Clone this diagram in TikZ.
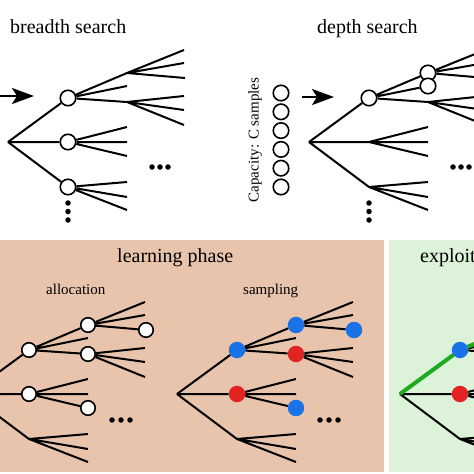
\documentclass[tikz,border=0pt]{standalone}
\usepackage{fontspec}
\setmainfont{Liberation Serif}
\usetikzlibrary{arrows.meta}
\definecolor{tanbg}{RGB}{232,196,172}
\definecolor{greenbg}{RGB}{221,243,217}
\definecolor{nblue}{RGB}{25,115,230}
\definecolor{nred}{RGB}{225,35,35}
\definecolor{ngreen}{RGB}{30,170,30}
\tikzset{
 tp/.style={shape=coordinate},
 wc/.style={shape=circle, draw, fill=white, line width=1.6pt, minimum size=15.5pt, inner sep=0pt},
 wcs/.style={wc, minimum size=14.5pt},
 bc/.style={shape=circle, fill=nblue, minimum size=16.5pt, inner sep=0pt},
 rc/.style={shape=circle, fill=nred, minimum size=16.5pt, inner sep=0pt},
 tline/.style={line width=2pt},
 gline/.style={line width=4pt, ngreen},
 dotn/.style={circle, fill, inner sep=0pt, minimum size=5.5pt},
 myarrow/.style={-{Stealth[length=22pt,width=16pt,inset=5pt]}, line width=1.7pt},
 ttl/.style={font=\fontsize{20}{24}\selectfont, inner sep=0pt, anchor=base west},
 subttl/.style={font=\fontsize{15}{18}\selectfont, inner sep=0pt, anchor=base west},
}
\newcommand\drawtree[3]{%
 \begin{scope}[shift={(#2,#3)}]
  \node[tp,#1-r/.try] (#1-r) at (0,0) {};
  \node[tp,#1-a/.try] (#1-a) at (60,-44) {};
  \node[tp,#1-b/.try] (#1-b) at (60,0) {};
  \node[tp,#1-c/.try] (#1-c) at (60,45) {};
  \node[tp,#1-a1/.try] (#1-a1) at (119,-69) {};
  \node[tp,#1-a2/.try] (#1-a2) at (119,-56) {};
  \node[tp,#1-a3/.try] (#1-a3) at (119,-40) {};
  \node[tp,#1-b1/.try] (#1-b1) at (119,-15) {};
  \node[tp,#1-b2/.try] (#1-b2) at (119,0) {};
  \node[tp,#1-b3/.try] (#1-b3) at (119,14) {};
  \node[tp,#1-c1/.try] (#1-c1) at (119,40) {};
  \node[tp,#1-c2/.try] (#1-c2) at (119,55) {};
  \node[tp,#1-c3/.try] (#1-c3) at (119,68) {};
  \node[tp,#1-a11/.try] (#1-a11) at (176,-92) {};
  \node[tp,#1-a12/.try] (#1-a12) at (176,-79) {};
  \node[tp,#1-a13/.try] (#1-a13) at (177,-64) {};
  \node[tp,#1-a31/.try] (#1-a31) at (176,-46) {};
  \node[tp,#1-a32/.try] (#1-a32) at (176,-32) {};
  \node[tp,#1-a33/.try] (#1-a33) at (176,-17) {};
 \end{scope}
 \draw[tline] (#1-r) -- (#1-a) (#1-r) -- (#1-b) (#1-r) -- (#1-c)
   (#1-a) -- (#1-a1) (#1-a) -- (#1-a2) (#1-a) -- (#1-a3)
   (#1-b) -- (#1-b1) (#1-b) -- (#1-b2) (#1-b) -- (#1-b3)
   (#1-c) -- (#1-c1) (#1-c) -- (#1-c2) (#1-c) -- (#1-c3)
   (#1-a1) -- (#1-a11) (#1-a1) -- (#1-a12) (#1-a1) -- (#1-a13)
   (#1-a3) -- (#1-a31) (#1-a3) -- (#1-a32) (#1-a3) -- (#1-a33);
}
\begin{document}
\begin{tikzpicture}[x=1pt,y=-1pt]
\useasboundingbox (0,0) rectangle (474,474);
\clip (0,0) rectangle (474,474);
% panels
\fill[tanbg] (0,240) rectangle (384,472);
\fill[greenbg] (389,240) rectangle (480,472);
% titles
\node[ttl] (t1) at (10,33) {breadth search};
\node[ttl] (t2) at (317,33) {depth search};
\node[ttl] (t3) at (117,262) {learning phase};
\node[ttl] (t4) at (420,262) {exploit};
\node[subttl] (s1) at (46,294) {allocation};
\node[subttl] (s2) at (243,294) {sampling};
\node[subttl, rotate=90, anchor=center] (cap) at (255,140) {Capacity: C samples};
% capacity column
\foreach \k in {0,...,5} \node[wc] (cap\k) at (281,{93+18.8*\k}) {};
% arrows
\coordinate (ar1s) at (0,96);
\coordinate (ar1e) at (34,96);
\draw[myarrow] (ar1s) -- (ar1e);
\coordinate (ar2s) at (302,97);
\coordinate (ar2e) at (334,97);
\draw[myarrow] (ar2s) -- (ar2e);
% breadth search tree
\tikzset{bs-a/.style=wc, bs-b/.style=wc, bs-c/.style=wc}
\drawtree{bs}{8}{142}
% depth search tree
\tikzset{ds-a/.style=wc, ds-a1/.style=wc, ds-a2/.style=wc}
\drawtree{ds}{309}{142}
% allocation tree
\tikzset{al-a/.style=wcs, al-b/.style=wcs, al-a1/.style=wcs, al-a3/.style=wcs, al-a13/.style=wcs, al-b3/.style=wcs}
\drawtree{al}{-31}{394}
% sampling tree
\tikzset{sa-a/.style=bc, sa-b/.style=rc, sa-a1/.style=bc, sa-a3/.style=rc, sa-a13/.style=bc, sa-b3/.style=bc}
\drawtree{sa}{177}{394}
% exploitation tree
\tikzset{ex-a/.style=bc, ex-b/.style=rc}
\drawtree{ex}{400}{394}
\draw[gline] (ex-r) -- (ex-a) -- (ex-a1);
% ellipsis dots
\foreach \x [count=\i] in {152,160,168} \node[dotn] (bh\i) at (\x,167) {};
\foreach \y [count=\i] in {203,211.5,220} \node[dotn] (bv\i) at (68,\y) {};
\foreach \x [count=\i] in {453,461,469} \node[dotn] (dh\i) at (\x,167) {};
\foreach \y [count=\i] in {203,211.5,220} \node[dotn] (dv\i) at (369,\y) {};
\foreach \x [count=\i] in {112,121,130} \node[dotn] (ah\i) at (\x,420) {};
\foreach \x [count=\i] in {320,329,338} \node[dotn] (sh\i) at (\x,420) {};
\end{tikzpicture}
\end{document}
